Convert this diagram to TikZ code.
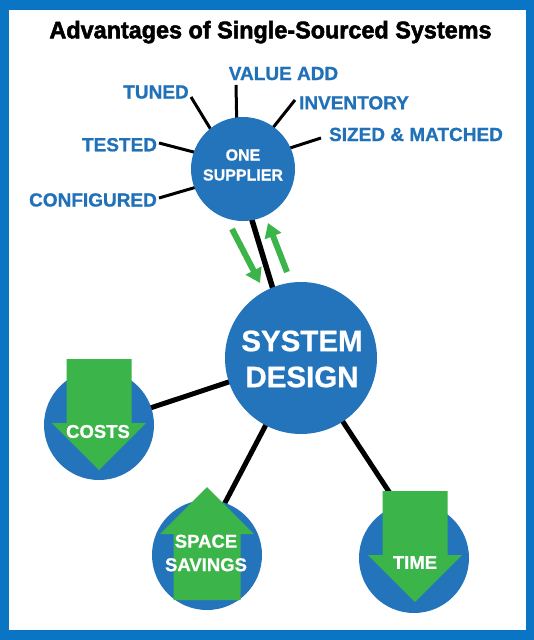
\documentclass[tikz,border=0pt]{standalone}
\usepackage{fontspec}
\setmainfont{Liberation Sans}
\newfontfamily\heavyfont[FakeBold=2.2]{Liberation Sans Bold}
\newfontfamily\semiheavy[FakeBold=0.8]{Liberation Sans Bold}
\usepackage{graphicx}
\usetikzlibrary{arrows.meta}
\definecolor{frameblue}{RGB}{10,117,196}
\definecolor{bubblue}{RGB}{36,116,187}
\definecolor{txtblue}{RGB}{33,113,185}
\definecolor{arrgreen}{RGB}{59,180,74}
\pgfdeclarelayer{back}
\pgfsetlayers{back,main}
\begin{document}
\begin{tikzpicture}[x=1pt,y=-1pt,
  bub/.style={circle, fill=bubblue, inner sep=0pt, minimum size=#1},
  spoke/.style={anchor=base, text=txtblue, inner sep=0pt, font=\fontsize{19}{19}\semiheavy},
  wlbl/.style={text=white, inner sep=0pt, align=center},
  spokeline/.style={draw=black, line width=3pt, shorten >=-3pt},
  mainline/.style={draw=black, line width=5pt, shorten >=-4pt},
  smallarr/.style={draw=arrgreen, line width=6pt, -{Triangle[width=17pt,length=14pt]}},
  downarr/.pic={\fill[arrgreen] (-32.5,0) -- (32.5,0) -- (32.5,64) -- (47,64) -- (0,111) -- (-47,64) -- (-32.5,64) -- cycle;},
  uparr/.pic={\fill[arrgreen] (0,0) -- (47,47) -- (33.5,47) -- (33.5,113) -- (-33.5,113) -- (-33.5,47) -- (-47,47) -- cycle;}
]
\useasboundingbox (0,0) rectangle (534,640);
\begin{pgfonlayer}{back}
  \fill[frameblue] (0,0) rectangle (534,640);
  \fill[white] (8.5,10) rectangle (526,630);
\end{pgfonlayer}

% title
\node[anchor=base, inner sep=0pt, font=\fontsize{24}{24}\heavyfont] (title) at (270.5,38.3)
  {\scalebox{0.975}[1]{Advantages of Single-Sourced Systems}};

% circles
\node[bub=104pt] (os) at (243,169) {};
\node[bub=152pt] (sd) at (301,358) {};
\node[bub=110pt] (costs) at (99,425) {};
\node[bub=110pt] (ss) at (207,555) {};
\node[bub=110pt] (time) at (414,558) {};

% big arrows
\pic at (99,359) {downarr};
\pic at (415,491) {downarr};
\pic at (207,487) {uparr};

% spoke labels
\node[spoke] (valueadd) at (283.5,80) {VALUE ADD};
\node[spoke] (tuned) at (156,98.5) {TUNED};
\node[spoke] (inventory) at (354,109.4) {INVENTORY};
\node[spoke] (sized) at (416,141) {SIZED \& MATCHED};
\node[spoke] (tested) at (119.5,151.3) {TESTED};
\node[spoke] (configured) at (93,206.5) {CONFIGURED};

\coordinate (tunedEnd) at (191,97);
\coordinate (valueEnd) at (236,85);
\coordinate (invEnd) at (295,100);
\coordinate (sizedEnd) at (321,138);
\coordinate (testedEnd) at (159,143);
\coordinate (confEnd) at (159,198);

\begin{pgfonlayer}{back}
  \draw[spokeline] (tunedEnd) -- (os.129);
  \draw[spokeline] (valueEnd) -- (os.97.7);
  \draw[spokeline] (invEnd) -- (os.54.2);
  \draw[spokeline] (sizedEnd) -- (os.24.6);
  \draw[spokeline] (testedEnd) -- (os.161.6);
  \draw[spokeline] (confEnd) -- (os.201.4);
  \draw[mainline, line width=5.5pt, shorten <=-4pt] (os.-80) -- (sd.112);
  \draw[mainline] (sd.center) -- (costs.center);
  \draw[mainline] (sd.center) -- (ss.71);
  \draw[mainline] (sd.center) -- (time.107);
\end{pgfonlayer}

% small green arrows
\coordinate (dnA) at (232,229);
\coordinate (dnB) at (260,283);
\coordinate (upA) at (287,272);
\coordinate (upB) at (268,223);
\draw[smallarr] (dnA) -- (dnB);
\draw[smallarr] (upA) -- (upB);

% white labels
\node[wlbl, font=\fontsize{16}{20}\semiheavy] (ostext) at (243,165) {ONE\\SUPPLIER};
\node[wlbl, font=\fontsize{29.5}{36}\semiheavy] (sdtext) at (302,359) {SYSTEM\\DESIGN};
\node[wlbl, font=\fontsize{18.5}{23.5}\semiheavy] (coststext) at (98,431.5) {COSTS};
\node[wlbl, font=\fontsize{18.5}{23.5}\semiheavy] (sstext) at (206,553) {SPACE\\SAVINGS};
\node[wlbl, font=\fontsize{18.5}{23.5}\semiheavy] (timetext) at (415,562.5) {TIME};
\end{tikzpicture}
\end{document}
